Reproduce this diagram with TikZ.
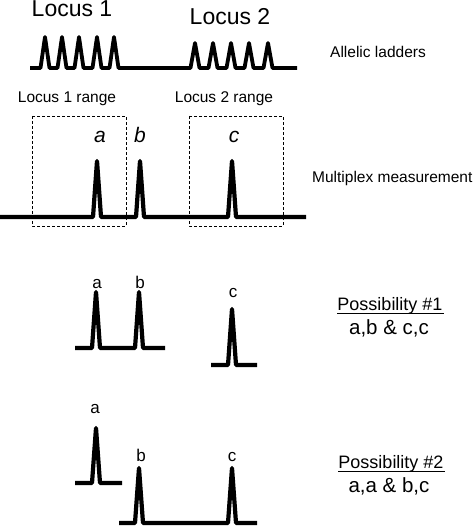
\documentclass[tikz,border=0pt]{standalone}
\usepackage{fontspec}
\setmainfont{Liberation Sans}
\begin{document}
\begin{tikzpicture}[x=1pt,y=-1pt,
  trace/.style={line width=4.2pt,line join=round,line cap=butt},
  ladder/.style={line width=3.8pt,line join=round},
  rangebox/.style={draw,dashed,line width=0.7pt,dash pattern=on 3pt off 2pt},
  lbl/.style={inner sep=0pt,anchor=base},
  big/.style={font=\fontsize{23}{23}\selectfont},
  mid/.style={font=\fontsize{15.5}{16}\selectfont},
  ital/.style={font=\fontsize{21}{21}\selectfont\itshape},
  small/.style={font=\fontsize{17}{17}\selectfont},
  poss/.style={font=\fontsize{18}{18}\selectfont},
  alle/.style={font=\fontsize{20.5}{21}\selectfont}]
\useasboundingbox (0,0) rectangle (474,526);
% ---- allelic ladders
\node[lbl,big] (locus1) at (72,16.7) {Locus 1};
\node[lbl,big] (locus2) at (230,25) {Locus 2};
\node[lbl,mid,anchor=base west] (ladders) at (330,58) {Allelic ladders};
\draw[ladder] (30,68)
  foreach \x in {45,62,79,97,114} { -- (\x-4.5,68) -- (\x,37) -- (\x+4.5,68) }
  foreach \x in {195,213,231,249,268} { -- (\x-4.5,68) -- (\x,43) -- (\x+4.5,68) }
  -- (297,68);
% ---- multiplex measurement
\node[lbl,mid] (range1) at (67,102.5) {Locus 1 range};
\node[lbl,mid] (range2) at (224,102.5) {Locus 2 range};
\draw[rangebox] (32,116) rectangle (126,226);
\draw[rangebox] (189,116) rectangle (283,226);
\node[lbl,ital] (ma) at (100,143) {a};
\node[lbl,ital] (mb) at (140,143) {b};
\node[lbl,ital] (mc) at (234,143) {c};
\node[lbl,mid,anchor=base west] (multi) at (312,183) {Multiplex measurement};
\draw[trace] (0,217)
  foreach \x in {97,140,232} { -- (\x-4,217) -- (\x,161) -- (\x+4,217) }
  -- (306,217);
% ---- possibility 1
\node[lbl,small] (pa1) at (97,288) {a};
\node[lbl,small] (pb1) at (140,288) {b};
\node[lbl,small] (pc1) at (233,297) {c};
\draw[trace] (75,348)
  foreach \x in {96,139} { -- (\x-4,348) -- (\x,292) -- (\x+4,348) }
  -- (165,348);
\draw[trace] (211,365) -- (228,365) -- (232,309) -- (236,365) -- (257,365);
\node[lbl,poss] (p1) at (390,310) {Possibility \#1};
\draw[line width=0.8pt] (p1.base west) ++(0,3.5) -- ++(107,0);
\node[lbl,alle] (p1t) at (389,334) {a,b \& c,c};
% ---- possibility 2
\node[lbl,small] (pa2) at (95,413) {a};
\node[lbl,small] (pb2) at (141,461) {b};
\node[lbl,small] (pc2) at (232,461) {c};
\draw[trace] (75,483) -- (92,483) -- (96,428) -- (100,483) -- (122,483);
\draw[trace] (119,523)
  foreach \x in {139,232} { -- (\x-4,523) -- (\x,468) -- (\x+4,523) }
  -- (257,523);
\node[lbl,poss] (p2) at (391,468) {Possibility \#2};
\draw[line width=0.8pt] (p2.base west) ++(0,3.5) -- ++(107,0);
\node[lbl,alle] (p2t) at (389,492) {a,a \& b,c};
\end{tikzpicture}
\end{document}
